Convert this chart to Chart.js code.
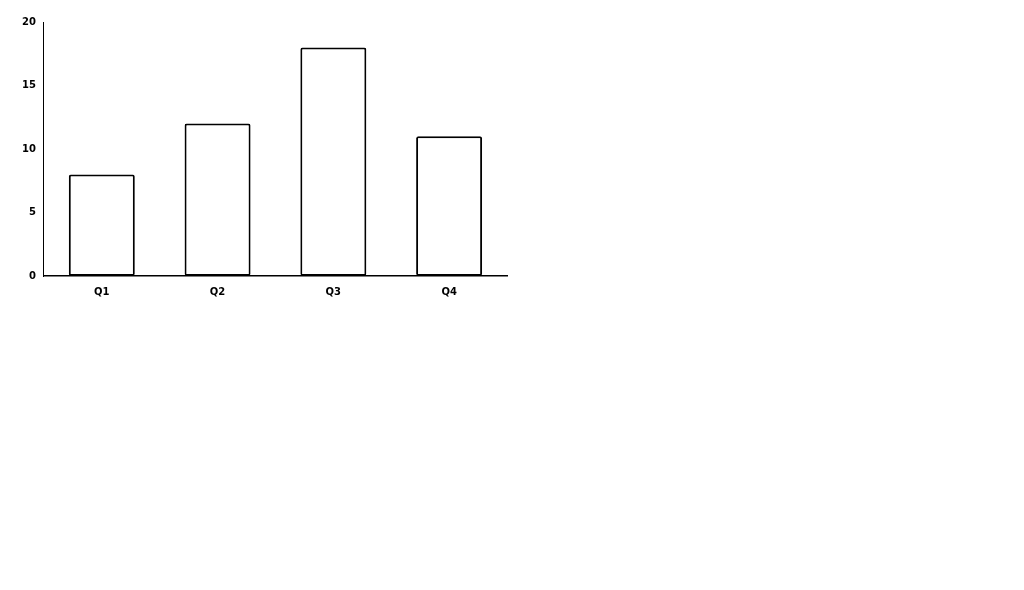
<!DOCTYPE html>
<html>
<head>
<meta charset="utf-8">
<script src="https://cdn.jsdelivr.net/npm/chart.js@4"></script>
<style>
  body { margin: 0; background: #fff; }
  #wrap { position: absolute; left: 0; top: 0; width: 520px; height: 310px; }
</style>
</head>
<body>
<div id="wrap"><canvas id="chart" width="520" height="310"></canvas></div>
<script>
const categories = ["Q1", "Q2", "Q3", "Q4"];
const values = [8, 12, 18, 11];
const yTicks = [0, 5, 10, 15, 20];

const ctx = document.getElementById("chart");
new Chart(ctx, {
  type: "bar",
  data: {
    labels: categories,
    datasets: [
      {
        data: values,
        backgroundColor: "#ffffff",
        borderColor: "#000000",
        borderWidth: 2,
        borderRadius: 2,
        borderSkipped: false,
        barPercentage: 0.57,
        categoryPercentage: 1,
      },
    ],
  },
  options: {
    responsive: false,
    animation: false,
    layout: { padding: { top: 22, left: 14, right: 13, bottom: 2 } },
    plugins: { legend: { display: false }, tooltip: { enabled: false } },
    scales: {
      x: {
        grid: { display: false, drawTicks: false },
        border: { display: true, color: "#000", width: 1.5 },
        ticks: {
          color: "#000",
          padding: 10,
          font: { family: "DejaVu Sans", size: 10, weight: "bold" },
        },
      },
      y: {
        min: 0,
        max: 20,
        afterBuildTicks: (axis) => {
          axis.ticks = yTicks.map((v) => ({ value: v }));
        },
        grid: { display: false, drawTicks: false },
        border: { display: true, color: "#000", width: 1 },
        ticks: {
          color: "#000",
          padding: 8,
          font: { family: "DejaVu Sans", size: 10, weight: "bold" },
        },
      },
    },
  },
});
</script>
</body>
</html>
